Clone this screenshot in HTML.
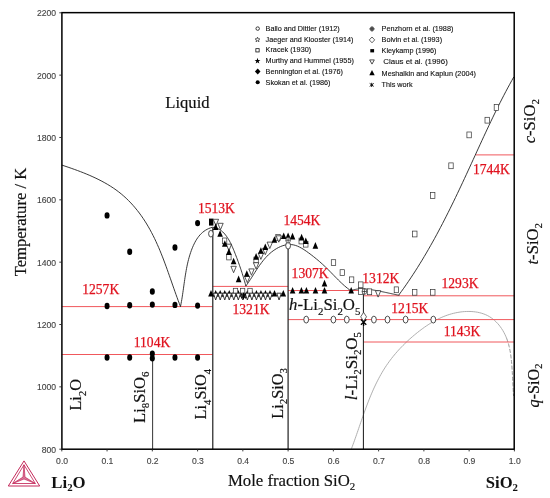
<!DOCTYPE html>
<html lang="en"><head><meta charset="utf-8"><title>Li2O-SiO2 phase diagram</title>
<style>html,body{margin:0;padding:0;background:#fff;}svg{display:block;}</style></head>
<body>
<svg width="550" height="498" viewBox="0 0 550 498">
<rect width="550" height="498" fill="#fff"/>
<path d="M351.45 448.74 L352.2 446.75 L352.94 444.74 L353.68 442.73 L354.41 440.71 L355.13 438.68 L355.85 436.65 L356.56 434.61 L357.27 432.57 L357.97 430.53 L358.68 428.48 L359.39 426.43 L360.09 424.38 L360.8 422.33 L361.51 420.28 L362.23 418.23 L362.94 416.18 L363.67 414.13 L364.4 412.09 L365.14 410.04 L365.89 408 L366.65 405.97 L367.41 403.94 L368.19 401.91 L368.99 399.9 L369.79 397.88 L370.61 395.88 L371.45 393.88 L372.3 391.9 L373.17 389.92 L374.06 387.95 L374.97 386 L375.9 384.05 L376.85 382.12 L377.82 380.2 L378.82 378.29 L379.84 376.4 L380.88 374.52 L381.95 372.66 L383.05 370.81 L384.18 368.98 L385.34 367.17 L386.53 365.37 L387.75 363.6 L389 361.84 L390.28 360.1 L391.6 358.38 L392.94 356.68 L394.31 355 L395.7 353.35 L397.13 351.71 L398.57 350.09 L400.05 348.49 L401.55 346.92 L403.07 345.36 L404.61 343.83 L406.17 342.32 L407.76 340.83 L409.36 339.36 L410.99 337.92 L412.63 336.49 L414.29 335.1 L415.96 333.72 L417.65 332.37 L419.35 331.04 L421.07 329.73 L422.81 328.45 L424.56 327.2 L426.32 325.98 L428.11 324.79 L429.91 323.64 L431.73 322.52 L433.58 321.44 L435.45 320.41 L437.34 319.41 L439.26 318.47 L441.2 317.57 L443.17 316.72 L445.18 315.93 L447.21 315.19 L449.27 314.51 L451.37 313.89 L453.5 313.33 L455.65 312.84 L457.84 312.41 L460.04 312.06 L462.25 311.78 L464.47 311.59 L466.68 311.47 L468.9 311.44 L471.1 311.5 L473.28 311.66 L475.45 311.91 L477.58 312.26 L479.68 312.71 L481.74 313.27 L483.75 313.94 L485.71 314.73 L487.61 315.63 L489.45 316.65 L491.22 317.8 L492.92 319.05 L494.55 320.42 L496.11 321.88 L497.59 323.43 L499 325.06 L500.32 326.77 L501.57 328.55 L502.74 330.39 L503.82 332.28 L504.82 334.21 L505.74 336.18 L506.57 338.18" fill="none" stroke="#a6a6a6" stroke-width="0.9"/>
<path d="M506.57 338.18 L507.32 340.21 L507.99 342.27 L508.6 344.35 L509.13 346.45 L509.61 348.56 L510.04 350.7 L510.41 352.85 L510.74 355 L511.02 357.17 L511.27 359.34 L511.49 361.51 L511.69 363.69 L511.86 365.86 L512.02 368.03 L512.16 370.19 L512.3 372.34 L512.43 374.49 L512.55 376.63 L512.66 378.78 L512.77 380.92 L512.88 383.06 L512.99 385.2 L513.09 387.34 L513.2 389.49 L513.31 391.64 L513.42 393.8 L513.54 395.97" fill="none" stroke="#8c8c8c" stroke-width="0.9" stroke-dasharray="4 1.6"/>
<path d="M61.8 306.6H212.67" stroke="#f0585c" stroke-width="1" fill="none"/>
<path d="M61.8 354.5H212.67" stroke="#f0585c" stroke-width="1" fill="none"/>
<path d="M212.67 286.4H288.1" stroke="#f0585c" stroke-width="1" fill="none"/>
<path d="M288.1 290.5H363.53" stroke="#f0585c" stroke-width="1" fill="none"/>
<path d="M363.53 295.8H514.4" stroke="#f0585c" stroke-width="1" fill="none"/>
<path d="M288.1 319.6H514.4" stroke="#f0585c" stroke-width="1" fill="none"/>
<path d="M363.53 342H514.4" stroke="#f0585c" stroke-width="1" fill="none"/>
<path d="M475.5 154.9H514" stroke="#f0585c" stroke-width="1" fill="none"/>
<path d="M152.62 354.5V449.2" stroke="#2a2a2a" stroke-width="0.95" fill="none"/>
<path d="M212.77 227.5V449.2 M288.1 245V449.2" stroke="#2a2a2a" stroke-width="1.25" fill="none"/>
<path d="M363.43 289V449.2" stroke="#2a2a2a" stroke-width="1.1" fill="none"/>
<path d="M61.88 165.1 L64.97 166.13 L68.08 167.18 L71.2 168.26 L74.32 169.36 L77.44 170.5 L80.57 171.68 L83.68 172.9 L86.78 174.16 L89.86 175.47 L92.92 176.83 L95.95 178.24 L98.95 179.71 L101.92 181.24 L104.84 182.83 L107.72 184.49 L110.54 186.23 L113.31 188.03 L116.02 189.92 L118.67 191.88 L121.24 193.93 L123.74 196.07 L126.18 198.28 L128.54 200.57 L130.83 202.93 L133.05 205.36 L135.2 207.86 L137.29 210.42 L139.3 213.03 L141.25 215.7 L143.14 218.42 L144.95 221.18 L146.71 223.99 L148.39 226.83 L150.02 229.71 L151.59 232.63 L153.11 235.58 L154.58 238.55 L156 241.55 L157.37 244.58 L158.71 247.63 L160 250.7 L161.26 253.79 L162.49 256.89 L163.69 260 L164.87 263.13 L166.02 266.26 L167.16 269.4 L168.28 272.55 L169.39 275.69 L170.49 278.83 L171.58 281.97 L172.67 285.11 L173.77 288.23 L174.86 291.35 L175.96 294.45 L177.08 297.53 L178.2 300.6 L179.35 303.65 L180.51 306.68" fill="none" stroke="#222" stroke-width="0.9" stroke-linejoin="round"/>
<path d="M180.43 306.71 L180.8 304.97 L181.14 303.22 L181.46 301.45 L181.77 299.68 L182.07 297.89 L182.35 296.09 L182.62 294.28 L182.89 292.47 L183.15 290.65 L183.41 288.82 L183.67 286.99 L183.92 285.15 L184.18 283.31 L184.44 281.46 L184.71 279.62 L184.98 277.77 L185.26 275.93 L185.56 274.09 L185.86 272.25 L186.19 270.41 L186.53 268.57 L186.88 266.75 L187.26 264.92 L187.67 263.11 L188.09 261.3 L188.54 259.51 L189.03 257.72 L189.54 255.94 L190.08 254.18 L190.66 252.43 L191.27 250.69 L191.92 248.96 L192.61 247.26 L193.35 245.57 L194.13 243.91 L194.96 242.28 L195.84 240.69 L196.79 239.14 L197.8 237.66 L198.88 236.23 L200.04 234.87 L201.27 233.58 L202.59 232.38 L203.99 231.27 L205.48 230.25 L207.07 229.34 L208.76 228.54 L210.55 227.85 L212.46 227.29" fill="none" stroke="#222" stroke-width="0.9" stroke-linejoin="round"/>
<path d="M212.5 227.26 L214.05 227.44 L215.52 227.75 L216.91 228.2 L218.22 228.76 L219.47 229.44 L220.64 230.2 L221.75 231.06 L222.8 231.99 L223.8 232.99 L224.75 234.04 L225.65 235.14 L226.51 236.28 L227.33 237.45 L228.11 238.66 L228.86 239.9 L229.58 241.17 L230.26 242.46 L230.92 243.77 L231.56 245.1 L232.17 246.44 L232.76 247.8 L233.34 249.16 L233.9 250.53 L234.45 251.9 L234.99 253.27 L235.52 254.64 L236.05 256 L236.57 257.36 L237.08 258.72 L237.58 260.07 L238.08 261.42 L238.58 262.77 L239.06 264.13 L239.54 265.48 L240.02 266.83 L240.48 268.18 L240.94 269.54 L241.4 270.9 L241.84 272.26 L242.28 273.63 L242.71 275 L243.14 276.38 L243.56 277.76 L243.97 279.15 L244.37 280.55 L244.77 281.96 L245.16 283.38 L245.54 284.8 L245.91 286.24" fill="none" stroke="#222" stroke-width="0.9" stroke-linejoin="round"/>
<path d="M245.81 286.09 L246.98 284.48 L248.14 282.83 L249.27 281.16 L250.38 279.46 L251.49 277.75 L252.59 276.03 L253.68 274.3 L254.78 272.57 L255.89 270.85 L257.01 269.13 L258.15 267.42 L259.31 265.73 L260.5 264.06 L261.72 262.42 L262.97 260.81 L264.27 259.23 L265.61 257.7 L267 256.21 L268.45 254.77 L269.96 253.38 L271.53 252.06 L273.17 250.8 L274.88 249.62 L276.63 248.52 L278.44 247.53 L280.29 246.66 L282.17 245.92 L284.08 245.32 L286.01 244.88 L287.95 244.61 L289.89 244.52 L291.84 244.63 L293.77 244.95 L295.68 245.48 L297.58 246.18 L299.45 247.04 L301.3 248.03 L303.13 249.11 L304.92 250.28 L306.69 251.5 L308.41 252.74 L310.1 253.99 L311.76 255.24 L313.38 256.5 L314.98 257.77 L316.54 259.05 L318.08 260.34 L319.6 261.64 L321.1 262.96 L322.58 264.3 L324.05 265.66 L325.51 267.03 L326.95 268.43 L328.39 269.86 L329.82 271.3 L331.25 272.76 L332.68 274.23 L334.12 275.7 L335.55 277.18 L337 278.64 L338.45 280.1 L339.92 281.54 L341.41 282.96 L342.91 284.35 L344.43 285.71 L345.97 287.03 L347.54 288.31 L349.13 289.54 L350.75 290.72" fill="none" stroke="#222" stroke-width="0.9" stroke-linejoin="round"/>
<path d="M350.8 290.7 L351.6 290.45 L352.4 290.21 L353.21 289.98 L354.01 289.76 L354.82 289.56 L355.64 289.37 L356.46 289.21 L357.28 289.08 L358.11 288.98 L358.95 288.89 L359.78 288.83 L360.62 288.79 L361.46 288.77 L362.3 288.78 L363.14 288.79 L363.98 288.83 L364.81 288.88 L365.65 288.95 L366.48 289.03 L367.31 289.12 L368.14 289.22 L368.97 289.33 L369.8 289.45 L370.62 289.58 L371.45 289.71 L372.28 289.85 L373.1 289.99 L373.92 290.13 L374.75 290.28 L375.57 290.42 L376.39 290.58 L377.21 290.73 L378.04 290.89 L378.86 291.05 L379.68 291.21 L380.5 291.37 L381.32 291.54 L382.14 291.71 L382.95 291.87 L383.77 292.04 L384.59 292.21 L385.41 292.39 L386.23 292.56 L387.05 292.73 L387.86 292.91 L388.68 293.08 L389.5 293.26 L390.32 293.43 L391.13 293.61 L391.95 293.79 L392.77 293.97 L393.58 294.14 L394.4 294.32 L395.22 294.5 L396.03 294.68 L396.85 294.86 L397.67 295.04 L398.48 295.22 L399.3 295.4" fill="none" stroke="#222" stroke-width="0.9" stroke-linejoin="round"/>
<path d="M398.74 295.09 L401.23 291.68 L403.69 288.25 L406.11 284.81 L408.49 281.34 L410.84 277.85 L413.15 274.35 L415.43 270.83 L417.68 267.29 L419.89 263.73 L422.08 260.16 L424.23 256.57 L426.36 252.96 L428.46 249.34 L430.53 245.71 L432.58 242.06 L434.61 238.4 L436.61 234.73 L438.58 231.05 L440.54 227.35 L442.48 223.65 L444.39 219.93 L446.29 216.2 L448.17 212.47 L450.04 208.72 L451.89 204.97 L453.72 201.21 L455.54 197.44 L457.35 193.67 L459.15 189.89 L460.93 186.1 L462.71 182.31 L464.48 178.52 L466.24 174.72 L467.99 170.92 L469.74 167.12 L471.49 163.31 L473.23 159.5 L474.97 155.69 L476.71 151.89 L478.46 148.08 L480.21 144.27 L481.96 140.47 L483.71 136.67 L485.48 132.88 L487.25 129.09 L489.04 125.3 L490.83 121.52 L492.64 117.75 L494.46 113.98 L496.3 110.23 L498.16 106.48 L500.04 102.74 L501.93 99.02 L503.85 95.3 L505.79 91.6 L507.76 87.91 L509.75 84.23 L511.77 80.57 L513.82 76.92" fill="none" stroke="#222" stroke-width="0.9" stroke-linejoin="round"/>
<ellipse cx="107.06" cy="215.4" rx="2.5" ry="3.2" fill="#000"/>
<ellipse cx="129.69" cy="251.7" rx="2.5" ry="3.2" fill="#000"/>
<ellipse cx="174.95" cy="247.5" rx="2.5" ry="3.2" fill="#000"/>
<ellipse cx="197.58" cy="223.1" rx="2.5" ry="3.2" fill="#000"/>
<ellipse cx="152.32" cy="291.5" rx="2.5" ry="3.2" fill="#000"/>
<ellipse cx="107.06" cy="306" rx="2.5" ry="3.2" fill="#000"/>
<ellipse cx="129.69" cy="305.2" rx="2.5" ry="3.2" fill="#000"/>
<ellipse cx="152.32" cy="304.6" rx="2.5" ry="3.2" fill="#000"/>
<ellipse cx="174.95" cy="304.9" rx="2.5" ry="3.2" fill="#000"/>
<ellipse cx="197.58" cy="305.6" rx="2.5" ry="3.2" fill="#000"/>
<ellipse cx="107.06" cy="357.5" rx="2.5" ry="3.2" fill="#000"/>
<ellipse cx="129.69" cy="357.5" rx="2.5" ry="3.2" fill="#000"/>
<ellipse cx="152.32" cy="353.6" rx="2.5" ry="3.2" fill="#000"/>
<ellipse cx="152.32" cy="358.2" rx="2.5" ry="3.2" fill="#000"/>
<ellipse cx="174.95" cy="357.5" rx="2.5" ry="3.2" fill="#000"/>
<ellipse cx="197.58" cy="357.5" rx="2.5" ry="3.2" fill="#000"/>
<path d="M212.88 296.6 L218.48 296.6 L215.68 290 Z" fill="#000"/>
<path d="M217.41 296.6 L223.01 296.6 L220.21 290 Z" fill="#000"/>
<path d="M221.94 296.6 L227.54 296.6 L224.74 290 Z" fill="#000"/>
<path d="M226.46 296.6 L232.06 296.6 L229.26 290 Z" fill="#000"/>
<path d="M230.99 296.6 L236.59 296.6 L233.79 290 Z" fill="#000"/>
<path d="M235.51 296.6 L241.11 296.6 L238.31 290 Z" fill="#000"/>
<path d="M240.04 296.6 L245.64 296.6 L242.84 290 Z" fill="#000"/>
<path d="M244.57 296.6 L250.17 296.6 L247.37 290 Z" fill="#000"/>
<path d="M249.09 296.6 L254.69 296.6 L251.89 290 Z" fill="#000"/>
<path d="M253.62 296.6 L259.22 296.6 L256.42 290 Z" fill="#000"/>
<path d="M258.14 296.6 L263.74 296.6 L260.94 290 Z" fill="#000"/>
<path d="M262.67 296.6 L268.27 296.6 L265.47 290 Z" fill="#000"/>
<path d="M267.2 296.6 L272.8 296.6 L270 290 Z" fill="#000"/>
<rect x="209" y="218.6" width="4.4" height="7.0" fill="#000"/>
<rect x="222.4" y="238" width="4.4" height="5.8" fill="#fff" stroke="#333" stroke-width="0.7"/>
<rect x="226.7" y="254.1" width="4.4" height="5.8" fill="#fff" stroke="#333" stroke-width="0.7"/>
<rect x="253.9" y="257.1" width="4.4" height="5.8" fill="#fff" stroke="#333" stroke-width="0.7"/>
<rect x="275.8" y="234.5" width="4.4" height="5.8" fill="#fff" stroke="#333" stroke-width="0.7"/>
<rect x="233.3" y="288.3" width="4.4" height="5.8" fill="#fff" stroke="#333" stroke-width="0.7"/>
<rect x="240.4" y="288.3" width="4.4" height="5.8" fill="#fff" stroke="#333" stroke-width="0.7"/>
<rect x="247.8" y="288.3" width="4.4" height="5.8" fill="#fff" stroke="#333" stroke-width="0.7"/>
<rect x="299" y="238.1" width="4.4" height="5.8" fill="#fff" stroke="#333" stroke-width="0.7"/>
<rect x="303.6" y="241.3" width="4.4" height="5.8" fill="#fff" stroke="#333" stroke-width="0.7"/>
<rect x="331.3" y="259.7" width="4.4" height="5.8" fill="#fff" stroke="#333" stroke-width="0.7"/>
<rect x="340.1" y="269.7" width="4.4" height="5.8" fill="#fff" stroke="#333" stroke-width="0.7"/>
<rect x="349.4" y="276.9" width="4.4" height="5.8" fill="#fff" stroke="#333" stroke-width="0.7"/>
<rect x="358.6" y="281.9" width="4.4" height="5.8" fill="#fff" stroke="#333" stroke-width="0.7"/>
<rect x="358.6" y="288.6" width="4.4" height="5.8" fill="#fff" stroke="#333" stroke-width="0.7"/>
<rect x="367.3" y="288.9" width="4.4" height="5.8" fill="#fff" stroke="#333" stroke-width="0.7"/>
<rect x="394.2" y="286.9" width="4.4" height="5.8" fill="#fff" stroke="#333" stroke-width="0.7"/>
<rect x="412.5" y="289.4" width="4.4" height="5.8" fill="#fff" stroke="#333" stroke-width="0.7"/>
<rect x="430.6" y="289.4" width="4.4" height="5.8" fill="#fff" stroke="#333" stroke-width="0.7"/>
<rect x="412.6" y="231.1" width="4.4" height="5.8" fill="#fff" stroke="#333" stroke-width="0.7"/>
<rect x="430.5" y="192.6" width="4.4" height="5.8" fill="#fff" stroke="#333" stroke-width="0.7"/>
<rect x="448.8" y="162.9" width="4.4" height="5.8" fill="#fff" stroke="#333" stroke-width="0.7"/>
<rect x="466.9" y="132" width="4.4" height="5.8" fill="#fff" stroke="#333" stroke-width="0.7"/>
<rect x="485" y="117.3" width="4.4" height="5.8" fill="#fff" stroke="#333" stroke-width="0.7"/>
<rect x="494.2" y="104.6" width="4.4" height="5.8" fill="#fff" stroke="#333" stroke-width="0.7"/>
<path d="M213.38 293.2 L217.98 293.2 L215.68 300 Z" fill="#fff" stroke="#222" stroke-width="0.9"/>
<path d="M217.91 293.2 L222.51 293.2 L220.21 300 Z" fill="#fff" stroke="#222" stroke-width="0.9"/>
<path d="M222.44 293.2 L227.04 293.2 L224.74 300 Z" fill="#fff" stroke="#222" stroke-width="0.9"/>
<path d="M226.96 293.2 L231.56 293.2 L229.26 300 Z" fill="#fff" stroke="#222" stroke-width="0.9"/>
<path d="M231.49 293.2 L236.09 293.2 L233.79 300 Z" fill="#fff" stroke="#222" stroke-width="0.9"/>
<path d="M236.01 293.2 L240.61 293.2 L238.31 300 Z" fill="#fff" stroke="#222" stroke-width="0.9"/>
<path d="M240.54 293.2 L245.14 293.2 L242.84 300 Z" fill="#fff" stroke="#222" stroke-width="0.9"/>
<path d="M245.07 293.2 L249.67 293.2 L247.37 300 Z" fill="#fff" stroke="#222" stroke-width="0.9"/>
<path d="M249.59 293.2 L254.19 293.2 L251.89 300 Z" fill="#fff" stroke="#222" stroke-width="0.9"/>
<path d="M254.12 293.2 L258.72 293.2 L256.42 300 Z" fill="#fff" stroke="#222" stroke-width="0.9"/>
<path d="M258.64 293.2 L263.24 293.2 L260.94 300 Z" fill="#fff" stroke="#222" stroke-width="0.9"/>
<path d="M263.17 293.2 L267.77 293.2 L265.47 300 Z" fill="#fff" stroke="#222" stroke-width="0.9"/>
<path d="M267.7 293.2 L272.3 293.2 L270 300 Z" fill="#fff" stroke="#222" stroke-width="0.9"/>
<path d="M276.75 293.2 L281.35 293.2 L279.05 300 Z" fill="#fff" stroke="#222" stroke-width="0.9"/>
<path d="M213.2 219.3 L218.6 219.3 L215.9 225.7 Z" fill="#fff" stroke="#222" stroke-width="0.75"/>
<path d="M217.8 223.3 L223.2 223.3 L220.5 229.7 Z" fill="#fff" stroke="#222" stroke-width="0.75"/>
<path d="M226.2 244.2 L231.6 244.2 L228.9 250.6 Z" fill="#fff" stroke="#222" stroke-width="0.75"/>
<path d="M230.9 266.3 L236.3 266.3 L233.6 272.7 Z" fill="#fff" stroke="#222" stroke-width="0.75"/>
<path d="M244.6 276.3 L250 276.3 L247.3 282.7 Z" fill="#fff" stroke="#222" stroke-width="0.75"/>
<path d="M248.8 268.9 L254.2 268.9 L251.5 275.3 Z" fill="#fff" stroke="#222" stroke-width="0.75"/>
<path d="M253.4 262.7 L258.8 262.7 L256.1 269.1 Z" fill="#fff" stroke="#222" stroke-width="0.75"/>
<path d="M258.2 253 L263.6 253 L260.9 259.4 Z" fill="#fff" stroke="#222" stroke-width="0.75"/>
<path d="M262.6 248.3 L268 248.3 L265.3 254.7 Z" fill="#fff" stroke="#222" stroke-width="0.75"/>
<path d="M267.1 242.1 L272.5 242.1 L269.8 248.5 Z" fill="#fff" stroke="#222" stroke-width="0.75"/>
<path d="M276.1 235.8 L281.5 235.8 L278.8 242.2 Z" fill="#fff" stroke="#222" stroke-width="0.75"/>
<path d="M375.4 290.7 L380.8 290.7 L378.1 297.1 Z" fill="#fff" stroke="#222" stroke-width="0.75"/>
<path d="M208.2 296.5 L213.8 296.5 L211 289.9 Z" fill="#000"/>
<path d="M271.7 296.5 L277.3 296.5 L274.5 289.9 Z" fill="#000"/>
<path d="M280.5 296.5 L286.1 296.5 L283.3 289.9 Z" fill="#000"/>
<path d="M212.9 229.9 L218.5 229.9 L215.7 223.3 Z" fill="#000"/>
<path d="M217.3 236.8 L222.9 236.8 L220.1 230.2 Z" fill="#000"/>
<path d="M222 246.8 L227.6 246.8 L224.8 240.2 Z" fill="#000"/>
<path d="M226.1 254.9 L231.7 254.9 L228.9 248.3 Z" fill="#000"/>
<path d="M230.8 264.3 L236.4 264.3 L233.6 257.7 Z" fill="#000"/>
<path d="M235.8 282.2 L241.4 282.2 L238.6 275.6 Z" fill="#000"/>
<path d="M244 276.8 L249.6 276.8 L246.8 270.2 Z" fill="#000"/>
<path d="M253.3 259.7 L258.9 259.7 L256.1 253.1 Z" fill="#000"/>
<path d="M258.1 253.8 L263.7 253.8 L260.9 247.2 Z" fill="#000"/>
<path d="M262.5 250 L268.1 250 L265.3 243.4 Z" fill="#000"/>
<path d="M271.6 242.8 L277.2 242.8 L274.4 236.2 Z" fill="#000"/>
<path d="M280.9 239 L286.5 239 L283.7 232.4 Z" fill="#000"/>
<path d="M285.3 239 L290.9 239 L288.1 232.4 Z" fill="#000"/>
<path d="M289.7 239.4 L295.3 239.4 L292.5 232.8 Z" fill="#000"/>
<path d="M298.8 240.4 L304.4 240.4 L301.6 233.8 Z" fill="#000"/>
<path d="M303 244 L308.6 244 L305.8 237.4 Z" fill="#000"/>
<path d="M312.6 248.7 L318.2 248.7 L315.4 242.1 Z" fill="#000"/>
<path d="M289.8 293.5 L295.4 293.5 L292.6 286.9 Z" fill="#000"/>
<path d="M298.6 293.5 L304.2 293.5 L301.4 286.9 Z" fill="#000"/>
<path d="M303.6 293.5 L309.2 293.5 L306.4 286.9 Z" fill="#000"/>
<path d="M312.7 293.5 L318.3 293.5 L315.5 286.9 Z" fill="#000"/>
<path d="M321.7 293.6 L327.3 293.6 L324.5 287 Z" fill="#000"/>
<path d="M321.7 286.4 L327.3 286.4 L324.5 279.8 Z" fill="#000"/>
<path d="M348.4 293.6 L354 293.6 L351.2 287 Z" fill="#000"/>
<ellipse cx="210.9" cy="233.7" rx="2.3" ry="3.3" fill="#fff" stroke="#222" stroke-width="0.8"/>
<ellipse cx="288.1" cy="245.6" rx="2.4" ry="3.45" fill="#fff" stroke="#222" stroke-width="0.8"/>
<ellipse cx="306.2" cy="319.6" rx="2.4" ry="3.45" fill="#fff" stroke="#222" stroke-width="0.8"/>
<ellipse cx="333.4" cy="319.6" rx="2.4" ry="3.45" fill="#fff" stroke="#222" stroke-width="0.8"/>
<ellipse cx="346.8" cy="319.6" rx="2.4" ry="3.45" fill="#fff" stroke="#222" stroke-width="0.8"/>
<ellipse cx="373.9" cy="319.6" rx="2.4" ry="3.45" fill="#fff" stroke="#222" stroke-width="0.8"/>
<ellipse cx="387.5" cy="319.6" rx="2.4" ry="3.45" fill="#fff" stroke="#222" stroke-width="0.8"/>
<ellipse cx="405.6" cy="319.6" rx="2.4" ry="3.45" fill="#fff" stroke="#222" stroke-width="0.8"/>
<ellipse cx="433.3" cy="319.6" rx="2.4" ry="3.45" fill="#fff" stroke="#222" stroke-width="0.8"/>
<ellipse cx="288.1" cy="240.2" rx="2.3" ry="2.9" fill="#fff" stroke="#222" stroke-width="0.7"/><path d="M285.8 240.2H290.4M288.1 237.3V243.1" stroke="#222" stroke-width="0.7"/>
<ellipse cx="364.4" cy="291.5" rx="2.3" ry="2.9" fill="#fff" stroke="#222" stroke-width="0.7"/><path d="M362.1 291.5H366.7M364.4 288.6V294.4" stroke="#222" stroke-width="0.7"/>
<path d="M243.5 292.8L243.5 299.2M241.1 293.76L245.9 298.24M241.1 298.24L245.9 293.76" stroke="#000" stroke-width="1.1" fill="none"/>
<path d="M363.6 318.5L363.6 325.9M360.9 319.61L366.3 324.79M360.9 324.79L366.3 319.61" stroke="#000" stroke-width="1.35" fill="none"/>
<path d="M360.7 316.8 L363.6 312.3 L366.5 316.8 L363.6 321.3 Z" fill="#fff" stroke="#222" stroke-width="0.7"/>
<rect x="61.9" y="12.65" width="452.30000000000007" height="436.55" fill="none" stroke="#000" stroke-width="1.5"/>
<path d="M59.3 449.19H61.9M59.3 386.85H61.9M59.3 324.51H61.9M59.3 262.17H61.9M59.3 199.83H61.9M59.3 137.48H61.9M59.3 75.14H61.9M59.3 12.8H61.9M61.8 449.2V451.4M107.06 449.2V451.4M152.32 449.2V451.4M197.58 449.2V451.4M242.84 449.2V451.4M288.1 449.2V451.4M333.36 449.2V451.4M378.62 449.2V451.4M423.88 449.2V451.4M469.14 449.2V451.4M514.4 449.2V451.4" stroke="#222" stroke-width="0.9" fill="none"/>
<g font-family='"Liberation Sans", Arial, sans-serif' font-size="8.6" fill="#424242" stroke="#424242" stroke-width="0.12">
<text x="56" y="452.69" text-anchor="end">800</text>
<text x="56" y="390.35" text-anchor="end">1000</text>
<text x="56" y="328.01" text-anchor="end">1200</text>
<text x="56" y="265.67" text-anchor="end">1400</text>
<text x="56" y="203.33" text-anchor="end">1600</text>
<text x="56" y="140.98" text-anchor="end">1800</text>
<text x="56" y="78.64" text-anchor="end">2000</text>
<text x="56" y="16.3" text-anchor="end">2200</text>
<text x="62.1" y="464.3" text-anchor="middle">0.0</text>
<text x="107.36" y="464.3" text-anchor="middle">0.1</text>
<text x="152.62" y="464.3" text-anchor="middle">0.2</text>
<text x="197.88" y="464.3" text-anchor="middle">0.3</text>
<text x="243.14" y="464.3" text-anchor="middle">0.4</text>
<text x="288.4" y="464.3" text-anchor="middle">0.5</text>
<text x="333.66" y="464.3" text-anchor="middle">0.6</text>
<text x="378.92" y="464.3" text-anchor="middle">0.7</text>
<text x="424.18" y="464.3" text-anchor="middle">0.8</text>
<text x="469.44" y="464.3" text-anchor="middle">0.9</text>
<text x="514.7" y="464.3" text-anchor="middle">1.0</text>
</g>
<g font-family='"Liberation Sans", Arial, sans-serif' font-size="7.25" fill="#111" stroke="#111" stroke-width="0.12">
<text x="265.6" y="31.2">Ballo and Dittler (1912)</text>
<text x="265.6" y="42.3">Jaeger and Klooster (1914)</text>
<text x="265.6" y="52.1">Kracek (1930)</text>
<text x="265.6" y="63.3">Murthy and Hummel (1955)</text>
<text x="265.6" y="74.4">Bennington et al. (1976)</text>
<text x="265.6" y="85">Skokan et al. (1986)</text>
<text x="381.6" y="31.2">Penzhorn et al. (1988)</text>
<text x="381.6" y="42.3">Boivin et al. (1993)</text>
<text x="381.6" y="53.2">Kleykamp (1996)</text>
<text x="383.3" y="64.3" font-size="7.9">Claus et al. (1996)</text>
<text x="381.6" y="75.7">Meshalkin and Kaplun (2004)</text>
<text x="381.6" y="87.3">This work</text>
</g>
<ellipse cx="257.7" cy="28.6" rx="1.75" ry="1.75" fill="#fff" stroke="#111" stroke-width="0.8"/>
<path d="M257.5 37.1 L258.12 38.85 L259.97 38.9 L258.5 40.02 L259.03 41.8 L257.5 40.75 L255.97 41.8 L256.5 40.02 L255.03 38.9 L256.88 38.85Z" fill="#fff" stroke="#111" stroke-width="0.6"/>
<rect x="255.85" y="48.65" width="3.3" height="3.3" fill="#fff" stroke="#111" stroke-width="0.8"/>
<path d="M257.5 57.8 L258.23 59.89 L260.45 59.94 L258.69 61.29 L259.32 63.41 L257.5 62.15 L255.68 63.41 L256.31 61.29 L254.55 59.94 L256.77 59.89Z" fill="#000" stroke="none" stroke-width="0.6"/>
<path d="M254.89999999999998 71.5l2.8 -3.0l2.8 3.0l-2.8 3.0Z" fill="#000"/>
<ellipse cx="257.7" cy="82.2" rx="2.05" ry="2.05" fill="#000"/>
<ellipse cx="372.0" cy="28.9" rx="2.3" ry="2.3" fill="#777"/><path d="M369.5 28.9h5M372.0 26.4v5" stroke="#444" stroke-width="1.2"/>
<path d="M369.3 39.9l2.7 -2.9l2.7 2.9l-2.7 2.9Z" fill="#fff" stroke="#222" stroke-width="0.7"/>
<rect x="370.3" y="49.1" width="3.8" height="3.3" fill="#000"/>
<path d="M369.7 59.9h4.6l-2.3 4.2Z" fill="#fff" stroke="#222" stroke-width="0.8"/>
<path d="M369.3 75.2h5.4l-2.7 -5.2Z" fill="#000"/>
<path d="M371.7 82.8L371.7 87M369.7 83.43L373.7 86.37M369.7 86.37L373.7 83.43" stroke="#000" stroke-width="0.9" fill="none"/>
<g font-family='"Liberation Serif", "Times New Roman", serif' font-size="16.6" fill="#111" stroke="#111" stroke-width="0.18">
<text x="165.3" y="108">Liquid</text>
<text transform="translate(25.6 276.3) rotate(-90)">Temperature / K</text>
<text x="227.9" y="485.9" font-size="16.75">Mole fraction SiO<tspan font-size="10.8" dy="3.8">2</tspan></text>
<text transform="translate(81.2 410.6) rotate(-90)" font-size="16.3">Li<tspan font-size="10.8" dy="4.5">2</tspan><tspan dy="-4.5">O</tspan></text>
<text transform="translate(144.6 423.0) rotate(-90)">Li<tspan font-size="10.8" dy="4.5">8</tspan><tspan dy="-4.5">SiO</tspan><tspan font-size="10.8" dy="4.5">6</tspan></text>
<text transform="translate(206.1 419.4) rotate(-90)" font-size="16.3">Li<tspan font-size="10.8" dy="4.5">4</tspan><tspan dy="-4.5">SiO</tspan><tspan font-size="10.8" dy="4.5">4</tspan></text>
<text transform="translate(282.7 418.7) rotate(-90)" font-size="16.3">Li<tspan font-size="10.8" dy="4.5">2</tspan><tspan dy="-4.5">SiO</tspan><tspan font-size="10.8" dy="4.5">3</tspan></text>
<text transform="translate(356.8 400.2) rotate(-90)" font-size="17"><tspan font-style="italic">l</tspan>-Li<tspan font-size="10.8" dy="4.5">2</tspan><tspan dy="-4.5">Si</tspan><tspan font-size="10.8" dy="4.5">2</tspan><tspan dy="-4.5">O</tspan><tspan font-size="10.8" dy="4.5">5</tspan></text>
<text x="289.1" y="310.1" font-size="16.8"><tspan font-style="italic">h</tspan>-Li<tspan font-size="10.8" dy="4.5">2</tspan><tspan dy="-4.5">Si</tspan><tspan font-size="10.8" dy="4.5">2</tspan><tspan dy="-4.5">O</tspan><tspan font-size="10.8" dy="4.5">5</tspan></text>
<text transform="translate(535.2 143.3) rotate(-90)"><tspan font-style="italic">c</tspan>-SiO<tspan font-size="10.8" dy="3.8">2</tspan></text>
<text transform="translate(537.9 264.5) rotate(-90)"><tspan font-style="italic">t</tspan>-SiO<tspan font-size="10.8" dy="3.8">2</tspan></text>
<text transform="translate(538.6 407.4) rotate(-90)" font-size="16.1"><tspan font-style="italic">q</tspan>-SiO<tspan font-size="10.8" dy="3.8">2</tspan></text>
<text x="51.3" y="487.8" font-weight="bold" font-size="16.8" stroke="none">Li<tspan font-size="10.8" dy="3.4">2</tspan><tspan dy="-3.4">O</tspan></text>
<text x="485.8" y="487.6" font-weight="bold" stroke="none">SiO<tspan font-size="10.8" dy="3.4">2</tspan></text>
</g>
<g font-family='"Liberation Serif", "Times New Roman", serif' font-size="13.6" fill="#e0121e" stroke="#e0121e" stroke-width="0.25" text-anchor="middle">
<text x="100.7" y="294.1">1257K</text>
<text x="152.0" y="346.5">1104K</text>
<text x="216.4" y="213.2">1513K</text>
<text x="301.9" y="224.6">1454K</text>
<text x="251.0" y="313.6">1321K</text>
<text x="310.1" y="277.5">1307K</text>
<text x="380.8" y="283.1">1312K</text>
<text x="460.0" y="288.0">1293K</text>
<text x="409.8" y="312.9">1215K</text>
<text x="462.0" y="335.8">1143K</text>
<text x="491.4" y="173.6">1744K</text>
</g>
<g fill="none" stroke="#c4285a" stroke-width="1" stroke-linejoin="round">
<path d="M24 460.9L8.3 486H39.7Z"/>
<path d="M24 464.8L12.7 483.5H35.3Z" stroke-width="0.85"/>
<path d="M24 464.8L25.0 477.1L35.3 483.5L24 479.0L12.7 483.5L23.0 477.1Z" fill="#d9779a" stroke-width="0.7"/>
</g>
</svg>
</body></html>
